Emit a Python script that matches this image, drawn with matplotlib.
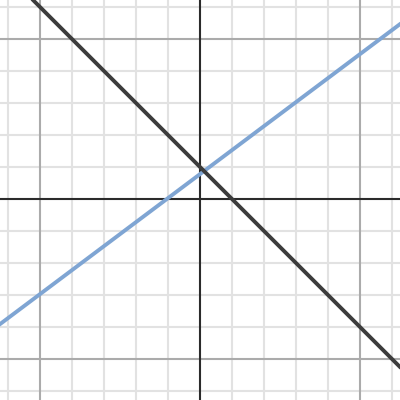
import matplotlib
matplotlib.use("Agg")
import matplotlib.pyplot as plt
import numpy as np

# Line data (points on each line)
black_x = [-7, 7]
black_y = [8, -6]      # y = -x + 1
blue_x = [-7, 7]
blue_y = [-4.5, 6]     # y = 0.75x + 0.75

minor_ticks = list(range(-7, 8))
major_ticks = [-5, 5]

fig = plt.figure(figsize=(4, 4), dpi=100)
ax = fig.add_axes([0, 0, 1, 1])
ax.set_xlim(-199.5 / 32, 200.5 / 32)
ax.set_ylim(-201.5 / 32, 198.5 / 32)

for t in minor_ticks:
    if t == 0 or t in major_ticks:
        continue
    ax.axvline(t, color="#e2e2e2", lw=1.5, zorder=1)
    ax.axhline(t, color="#e2e2e2", lw=1.5, zorder=1)
for t in major_ticks:
    ax.axvline(t, color="#ababab", lw=1.5, zorder=2)
    ax.axhline(t, color="#ababab", lw=1.5, zorder=2)
ax.axvline(0, color="#2b2b2b", lw=1.5, zorder=3)
ax.axhline(0, color="#2b2b2b", lw=1.5, zorder=3)

ax.plot(blue_x, blue_y, color="#7fa5d3", lw=2.8, zorder=4, solid_capstyle="butt")
ax.plot(black_x, black_y, color="#3c3c3c", lw=2.8, zorder=5, solid_capstyle="butt")

ax.set_xticks([])
ax.set_yticks([])
for s in ax.spines.values():
    s.set_visible(False)

fig.savefig("out.png", dpi=100)
